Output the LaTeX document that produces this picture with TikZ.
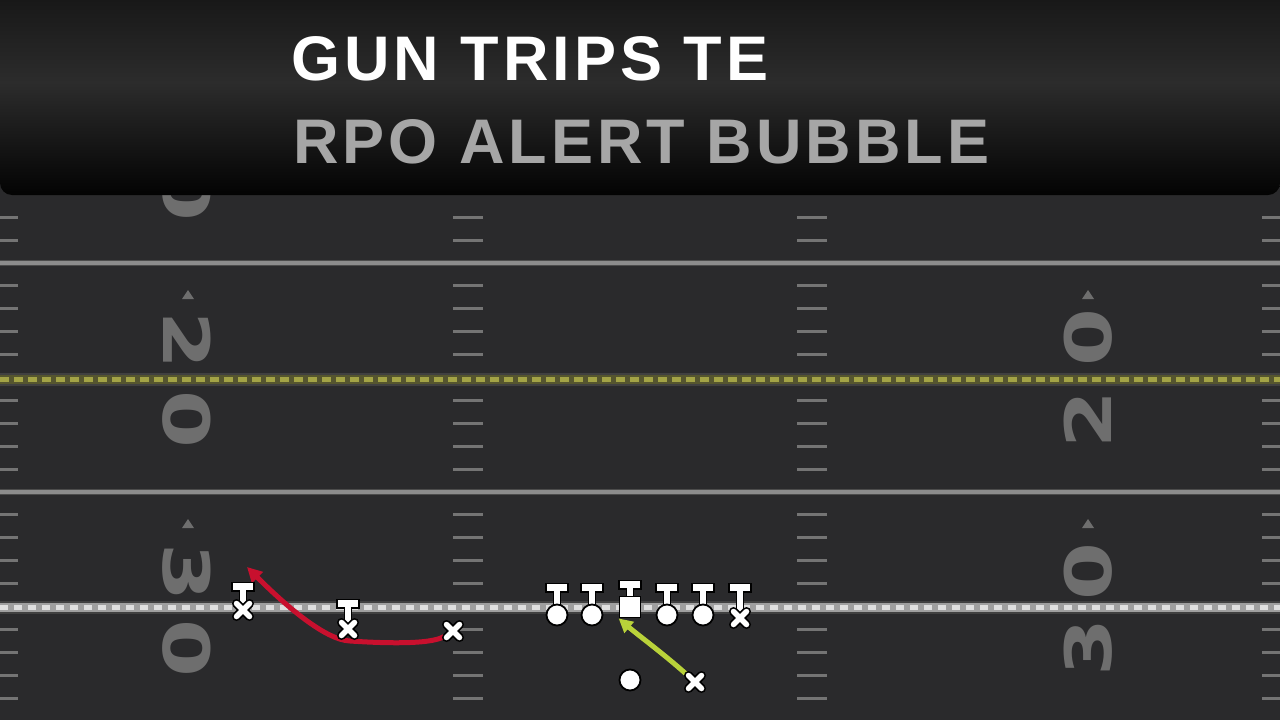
\documentclass[tikz,border=0pt]{standalone}
\usepackage{fontspec}
\usepackage{pdfrender}
\setmainfont{Liberation Sans}
\newfontfamily\titlefont[LetterSpace=6.4]{Liberation Sans}
\newfontfamily\numfont{DejaVu Sans}
\usetikzlibrary{arrows.meta}
\definecolor{field}{HTML}{2A2A2C}
\definecolor{hash}{HTML}{747474}
\definecolor{numgray}{HTML}{6E6E6E}
\definecolor{ydline}{HTML}{8C8C8C}
\definecolor{routered}{HTML}{C8102E}
\definecolor{routegreen}{HTML}{B9D23A}
\definecolor{titlegray}{HTML}{A6A6A6}
\definecolor{hdrtop}{HTML}{111111}
\definecolor{hdrmid}{HTML}{2C2C2C}
\definecolor{hdrbot}{HTML}{030303}
\definecolor{ltgdark}{HTML}{55552F}
\definecolor{ltgstripe}{HTML}{A3A346}
\newcommand{\fieldnum}[1]{\textpdfrender{TextRenderingMode=FillStroke,LineWidth=5,StrokeColor=numgray,FillColor=numgray,LineJoin=1}{\scalebox{1.3}[1]{#1}}}
\newcommand{\titleink}[2]{\textpdfrender{TextRenderingMode=FillStroke,LineWidth=0.8,StrokeColor=#1,FillColor=#1}{\color{#1}#2}}
\tikzset{
  hashmark/.style={line width=3pt, hash},
  digit/.style={font=\numfont\bfseries\fontsize{64}{64}\selectfont, text=numgray, inner sep=0pt},
  player/.style={draw=black, fill=white, line width=1.8pt, inner sep=0pt},
  lineman/.style={player, circle, minimum size=21pt},
  centerbox/.style={player, rectangle, minimum size=21pt},
  spot/.style={inner sep=0pt, minimum size=18pt},
  redroute/.style={routered, line width=5pt, -{Triangle[length=15pt,width=15pt]}},
  greenroute/.style={routegreen, line width=5pt, -{Triangle[length=14pt,width=14pt]}},
  titletext/.style={anchor=base west, inner sep=0pt, font=\titlefont\bfseries\fontsize{63}{63}\selectfont},
  pics/xmark/.style={code={
    \draw[black, line width=9pt, line cap=round] (-6.5,-6.5)--(6.5,6.5) (-6.5,6.5)--(6.5,-6.5);
    \draw[white, line width=5.5pt, line cap=round] (-6.5,-6.5)--(6.5,6.5) (-6.5,6.5)--(6.5,-6.5);
  }},
  pics/blk/.style={code={
    \filldraw[fill=white, draw=black, line width=1.5pt]
      (-11,-#1-4.5) -- (11,-#1-4.5) -- (11,-#1+4) -- (3.5,-#1+4) -- (3.5,0) -- (-3.5,0)
      -- (-3.5,-#1+4) -- (-11,-#1+4) -- cycle;
  }}
}
\begin{document}
\begin{tikzpicture}[x=1pt, y=-1pt]
\useasboundingbox (0,0) rectangle (1280,720);
% field
\fill[field] (0,0) rectangle (1280,720);
% hash marks
\foreach \k in {13,14,16,17,18,19,21,22,23,24,26,27,28,29,31,32,33,34}{
  \pgfmathsetmacro\yy{606.5-22.9*(30-\k)}
  \draw[hashmark] (0,\yy) -- (18,\yy);
  \draw[hashmark] (453,\yy) -- (483,\yy);
  \draw[hashmark] (797,\yy) -- (827,\yy);
  \draw[hashmark] (1262,\yy) -- (1280,\yy);
}
% yard lines
\foreach \yy in {263,492}{
  \draw[line width=6pt, black!70] (0,\yy) -- (1280,\yy);
  \draw[line width=3.5pt, ydline] (0,\yy) -- (1280,\yy);
}
% line to gain
\draw[line width=13pt, black!75] (0,379) -- (1280,379);
\draw[line width=9pt, ltgdark] (0,379) -- (1280,379);
\draw[line width=5pt, ltgstripe, dash pattern=on 9pt off 5pt] (0,379) -- (1280,379);
% line of scrimmage
\draw[line width=13pt, black!75] (0,607) -- (1280,607);
\draw[line width=9pt, gray!75] (0,607) -- (1280,607);
\draw[line width=5pt, white!75!gray, dash pattern=on 8pt off 6pt] (0,607) -- (1280,607);
% yard numbers
\node[digit, rotate=-90] (l10b) at (187,192) {\fieldnum{0}};
\node[digit, rotate=-90] (l20a) at (187,340) {\fieldnum{2}};
\node[digit, rotate=-90] (l20b) at (187,419) {\fieldnum{0}};
\node[digit, rotate=-90] (l30a) at (187,572) {\fieldnum{3}};
\node[digit, rotate=-90] (l30b) at (187,648) {\fieldnum{0}};
\node[digit, rotate=90] (r20a) at (1088,338) {\fieldnum{0}};
\node[digit, rotate=90] (r20b) at (1088,420) {\fieldnum{2}};
\node[digit, rotate=90] (r30a) at (1088,572) {\fieldnum{0}};
\node[digit, rotate=90] (r30b) at (1088,648) {\fieldnum{3}};
\foreach \xx/\yy in {188/296,188/525,1088/296,1088/525}{
  \fill[numgray] (\xx,\yy-6) -- (\xx+6,\yy+3) -- (\xx-6,\yy+3) -- cycle;
}
% header banner
\shade[rounded corners=12pt, top color=hdrtop, bottom color=hdrbot, middle color=hdrmid]
  (0,-30) -- (0,195) -- (1280,195) -- (1280,-30) -- cycle;
\node[titletext] (t1) at (291,80) {\titleink{white}{GUN TRIPS TE}};
\node[titletext] (t2) at (293,163) {\titleink{titlegray}{RPO ALERT BUBBLE}};
% players (positions)
\node[spot] (x1) at (243,610) {};
\node[spot] (x2) at (348,629) {};
\node[spot] (x3) at (453,631) {};
\node[spot] (te) at (740,618) {};
\node[spot] (rb) at (695,682) {};
\coordinate (redend) at (247,567);
% routes
\draw[redroute] (x3) .. controls (430,645) and (380,643) .. (350,641)
  .. controls (325,640) and (285,605) .. (redend);
% blocks
\pic at (x1) {blk=23};
\pic at (x2) {blk=25};
\pic at (557,615) {blk=27};
\pic at (592,615) {blk=27};
\pic at (630,607) {blk=22};
\pic at (667,615) {blk=27};
\pic at (703,615) {blk=27};
\pic at (te) {blk=30};
% offensive line
\node[lineman] (lt) at (557,615) {};
\node[lineman] (lg) at (592,615) {};
\node[centerbox] (c) at (630,607) {};
\node[lineman] (rg) at (667,615) {};
\node[lineman] (rt) at (703,615) {};
\node[lineman] (qb) at (630,680) {};
\draw[greenroute] (rb) .. controls (665,655) and (638,635) .. (c.south west);
% receivers
\pic at (x1) {xmark};
\pic at (x2) {xmark};
\pic at (x3) {xmark};
\pic at (te) {xmark};
\pic at (rb) {xmark};
\end{tikzpicture}
\end{document}
